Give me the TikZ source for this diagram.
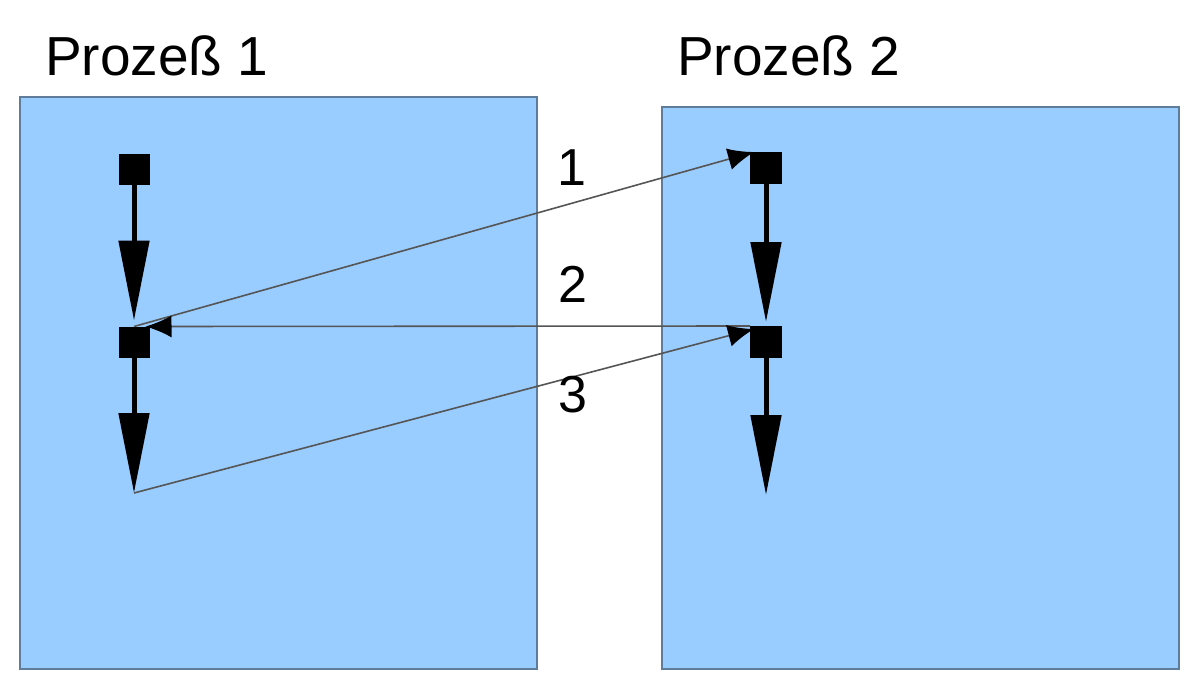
\documentclass[tikz,border=0pt]{standalone}
\usepackage{fontspec}
\setmainfont{Liberation Sans}
\usetikzlibrary{arrows.meta}
\definecolor{boxfill}{RGB}{153,204,255}
\definecolor{boxline}{RGB}{95,125,155}
\definecolor{thinline}{RGB}{85,85,85}
\begin{document}
\begin{tikzpicture}[x=1pt,y=-1pt,
  procbox/.style={fill=boxfill,draw=boxline,line width=2pt},
  sq/.style={fill=black,draw=none,minimum size=31pt,inner sep=0pt,outer sep=0pt},
  thick arrow/.style={line width=5pt,-{Triangle[length=80pt,width=30pt]}},
  thin arrow/.style={draw=thinline,line width=1.6pt,-{Latex[length=26pt,width=22pt,color=black]}},
  lbl/.style={font=\fontsize{52}{60}\selectfont,inner sep=0pt},
  ttl/.style={font=\fontsize{55}{64}\selectfont,inner sep=0pt}]
\useasboundingbox (0,0) rectangle (1200,691);
\fill[white] (0,0) rectangle (1200,691);
% process boxes
\draw[procbox] (20,97) rectangle (537,669);
\draw[procbox] (662,107) rectangle (1179,669);
% titles
\node[ttl,anchor=base west] (t1) at (45,75) {Prozeß 1};
\node[ttl,anchor=base west] (t2) at (677,75) {Prozeß 2};
% squares
\node[sq] (L1) at (134,169) {};
\node[sq] (L2) at (134,342) {};
\coordinate (Lend) at (134,493);
\node[sq,minimum size=32pt] (R1) at (766,168) {};
\node[sq,minimum size=32pt] (R2) at (766,342) {};
\coordinate (Rend) at (766,495);
% thick arrows
\draw[thick arrow,shorten >=6pt] (L1.south) -- (L2.north);
\draw[thick arrow] (L2.south) -- (Lend);
\draw[thick arrow,shorten >=4pt] (R1.south) -- (R2.north);
\draw[thick arrow] (R2.south) -- (Rend);
% messages
\draw[thin arrow] (L2.north) -- ([xshift=4pt]R1.north west);
\draw[thin arrow] (R2.north west) -- ([xshift=-4pt]L2.north east);
\draw[thin arrow] (Lend) -- ([xshift=4pt,yshift=-3pt]R2.north west);
% labels
\node[lbl,anchor=base] (n1) at (572,185) {1};
\node[lbl,anchor=base] (n2) at (573,302) {2};
\node[lbl,anchor=base] (n3) at (573,412) {3};
\end{tikzpicture}
\end{document}
